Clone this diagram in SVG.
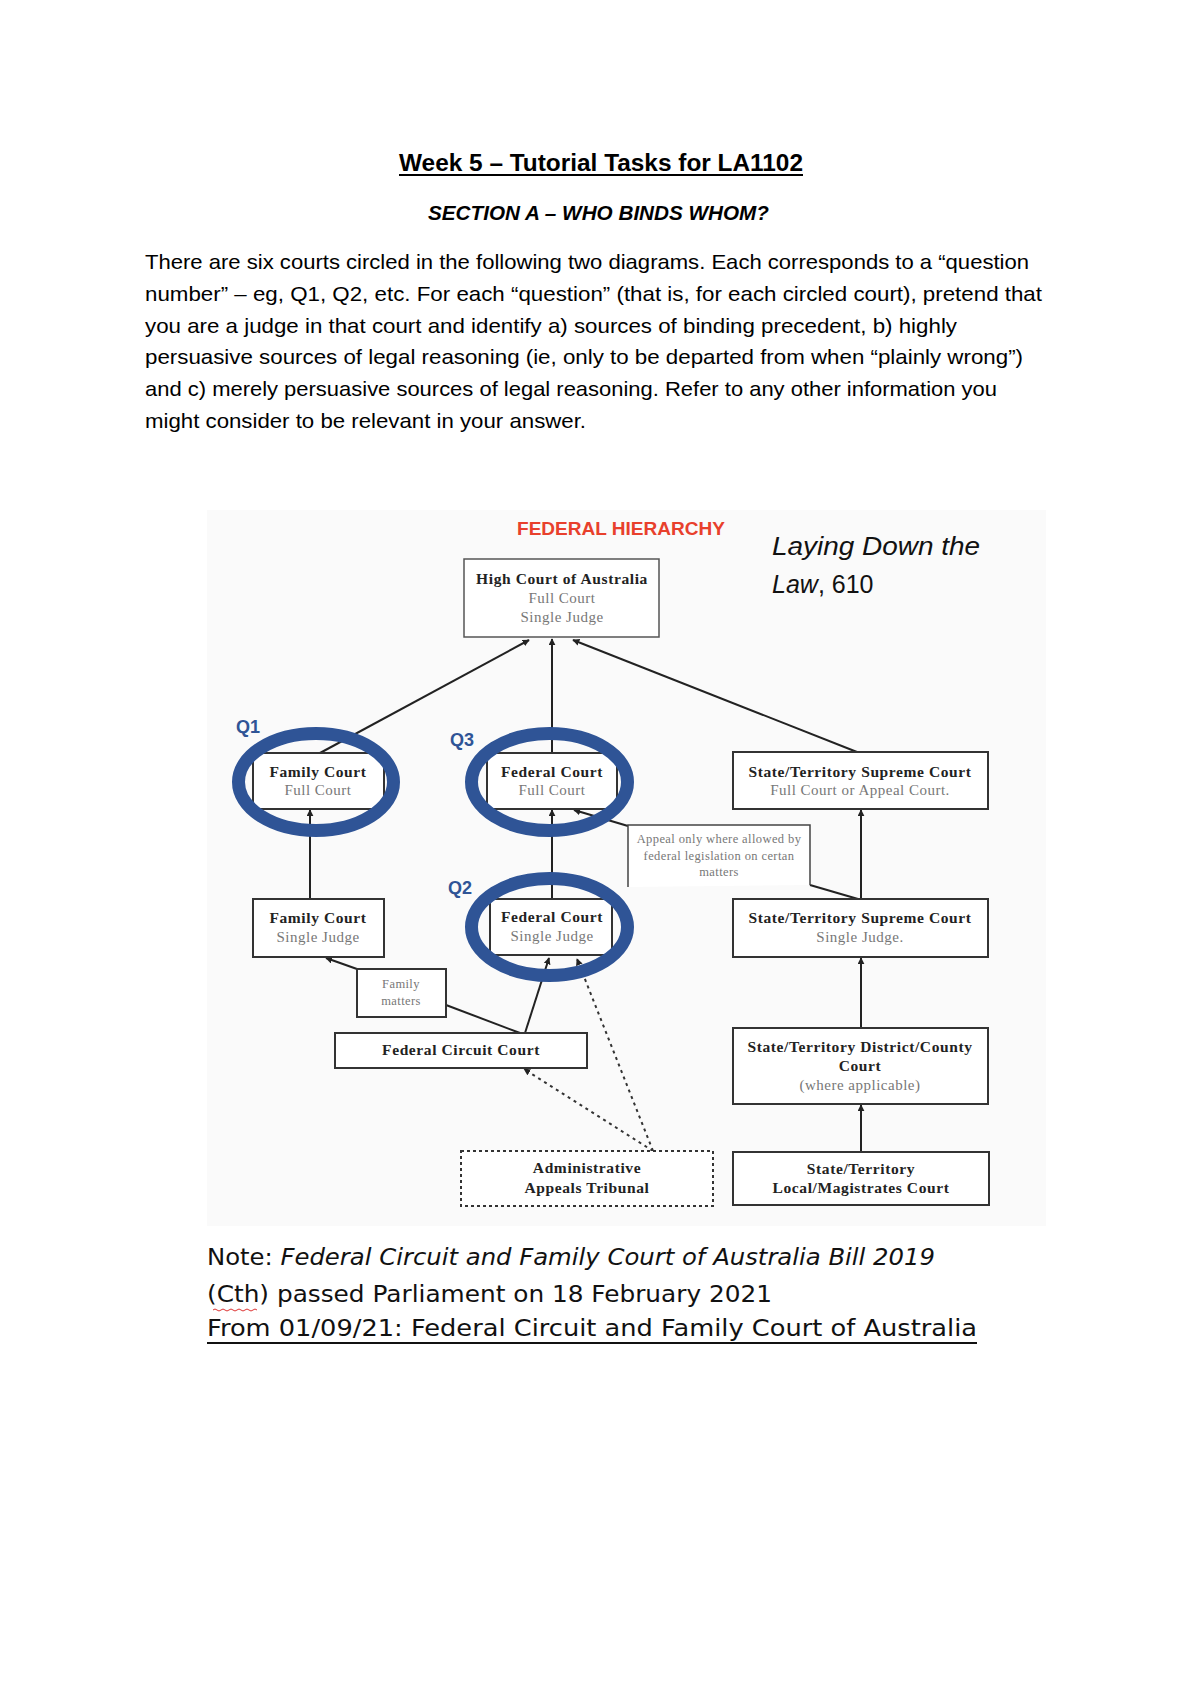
<svg xmlns="http://www.w3.org/2000/svg" width="1200" height="1698" viewBox="0 0 1200 1698">
<defs>
<marker id="ah" viewBox="0 0 10 10" refX="9" refY="5" markerWidth="7" markerHeight="7" markerUnits="userSpaceOnUse" orient="auto"><path d="M0,0 L10,5 L0,10 z" fill="#222"/></marker>
</defs>
<style>
.hdr{font-family:"Liberation Sans",Arial,sans-serif;fill:#000}
.para{font-family:"Liberation Sans",Arial,sans-serif;font-size:21px;fill:#000}
.box{fill:#fff;stroke:#333;stroke-width:2}
.bt{font-family:"Liberation Serif","Times New Roman",serif;font-size:15.5px;letter-spacing:0.6px;font-weight:bold;fill:#222;text-anchor:middle}
.st{font-family:"Liberation Serif","Times New Roman",serif;font-size:15px;letter-spacing:0.5px;fill:#777;text-anchor:middle}
.sm{font-family:"Liberation Serif","Times New Roman",serif;font-size:12.5px;letter-spacing:0.4px;fill:#777;text-anchor:middle}
.ring{fill:none;stroke:#2F5496;stroke-width:13}
.q{font-family:"Liberation Sans",Arial,sans-serif;font-size:18px;font-weight:bold;fill:#2F5496}
.ln{fill:none;stroke:#222;stroke-width:2}
.dl{fill:none;stroke:#333;stroke-width:2;stroke-dasharray:3,4}
.note{font-family:"DejaVu Sans",Verdana,sans-serif;font-size:23px;fill:#111}
</style>
<rect width="1200" height="1698" fill="#fff"/>
<!-- header -->
<g id="header">
<text class="hdr" x="399" y="171" font-size="23" font-weight="bold" textLength="404" lengthAdjust="spacingAndGlyphs">Week 5 – Tutorial Tasks for LA1102</text>
<line x1="399" y1="175" x2="803" y2="175" stroke="#000" stroke-width="2"/>
<text class="hdr" x="428" y="220" font-size="20" font-weight="bold" font-style="italic" textLength="341" lengthAdjust="spacingAndGlyphs">SECTION A – WHO BINDS WHOM?</text>
<text class="para" x="145" y="269" textLength="884" lengthAdjust="spacingAndGlyphs">There are six courts circled in the following two diagrams. Each corresponds to a “question</text>
<text class="para" x="145" y="301" textLength="897" lengthAdjust="spacingAndGlyphs">number” – eg, Q1, Q2, etc. For each “question” (that is, for each circled court), pretend that</text>
<text class="para" x="145" y="333" textLength="812" lengthAdjust="spacingAndGlyphs">you are a judge in that court and identify a) sources of binding precedent, b) highly</text>
<text class="para" x="145" y="364" textLength="878" lengthAdjust="spacingAndGlyphs">persuasive sources of legal reasoning (ie, only to be departed from when “plainly wrong”)</text>
<text class="para" x="145" y="396" textLength="852" lengthAdjust="spacingAndGlyphs">and c) merely persuasive sources of legal reasoning. Refer to any other information you</text>
<text class="para" x="145" y="428" textLength="441" lengthAdjust="spacingAndGlyphs">might consider to be relevant in your answer.</text>
</g>
<!-- diagram background -->
<rect x="207" y="510" width="839" height="716" fill="#fafafa"/>
<text x="517" y="535" font-family="Liberation Sans,Arial,sans-serif" font-size="19" font-weight="bold" fill="#E8402C" textLength="208" lengthAdjust="spacingAndGlyphs">FEDERAL HIERARCHY</text>
<text x="772" y="555" font-family="Liberation Sans,Arial,sans-serif" font-size="25" font-style="italic" fill="#111" textLength="208" lengthAdjust="spacingAndGlyphs">Laying Down the</text>
<text x="772" y="593" font-family="Liberation Sans,Arial,sans-serif" font-size="25" fill="#111"><tspan font-style="italic">Law</tspan>, 610</text>
<!-- connectors -->
<g id="connectors">
<line class="ln" x1="320" y1="753" x2="529" y2="640" marker-end="url(#ah)"/>
<line class="ln" x1="552" y1="753" x2="552" y2="639" marker-end="url(#ah)"/>
<line class="ln" x1="857" y1="752" x2="573" y2="640" marker-end="url(#ah)"/>
<line class="ln" x1="310" y1="899" x2="310" y2="810" marker-end="url(#ah)"/>
<line class="ln" x1="552" y1="899" x2="552" y2="810" marker-end="url(#ah)"/>
<line class="ln" x1="861" y1="899" x2="861" y2="810" marker-end="url(#ah)"/>
<line class="ln" x1="861" y1="1028" x2="861" y2="958" marker-end="url(#ah)"/>
<line class="ln" x1="861" y1="1152" x2="861" y2="1105" marker-end="url(#ah)"/>
<line class="ln" x1="628" y1="826" x2="574" y2="810" marker-end="url(#ah)"/>
<line class="ln" x1="810" y1="885" x2="858" y2="899"/>
<line class="ln" x1="357" y1="969" x2="326" y2="958" marker-end="url(#ah)"/>
<line class="ln" x1="446" y1="1005" x2="520" y2="1033"/>
<line class="ln" x1="525" y1="1033" x2="549" y2="958" marker-end="url(#ah)"/>
<line class="dl" x1="653" y1="1151" x2="577" y2="959" marker-end="url(#ah)"/>
<line class="dl" x1="653" y1="1151" x2="524" y2="1069" marker-end="url(#ah)"/>
</g>
<!-- nodes -->
<g id="high-court">
<rect x="464" y="559" width="195" height="78" fill="#fff" stroke="#555" stroke-width="1.5"/>
<text class="bt" x="562" y="584">High Court of Australia</text>
<text class="st" x="562" y="603">Full Court</text>
<text class="st" x="562" y="622">Single Judge</text>
</g>
<g id="family-full">
<rect class="box" x="253" y="753" width="131" height="56"/>
<text class="bt" x="318" y="777">Family Court</text>
<text class="st" x="318" y="795">Full Court</text>
</g>
<g id="federal-full">
<rect class="box" x="487" y="753" width="130" height="56"/>
<text class="bt" x="552" y="777">Federal Court</text>
<text class="st" x="552" y="795">Full Court</text>
</g>
<g id="state-full">
<rect class="box" x="733" y="752" width="255" height="57"/>
<text class="bt" x="860" y="777">State/Territory Supreme Court</text>
<text class="st" x="860" y="795">Full Court or Appeal Court.</text>
</g>
<g id="appeal-note">
<polyline points="628,887 628,825 810,825 810,885" fill="#fff" stroke="#444" stroke-width="1.5"/>
<text class="sm" x="719" y="843">Appeal only where allowed by</text>
<text class="sm" x="719" y="860">federal legislation on certan</text>
<text class="sm" x="719" y="876">matters</text>
</g>
<g id="family-single">
<rect class="box" x="253" y="899" width="131" height="58"/>
<text class="bt" x="318" y="923">Family Court</text>
<text class="st" x="318" y="942">Single Judge</text>
</g>
<g id="federal-single">
<rect class="box" x="490" y="899" width="122" height="56"/>
<text class="bt" x="552" y="922">Federal Court</text>
<text class="st" x="552" y="941">Single Judge</text>
</g>
<g id="state-single">
<rect class="box" x="733" y="899" width="255" height="58"/>
<text class="bt" x="860" y="923">State/Territory Supreme Court</text>
<text class="st" x="860" y="942">Single Judge.</text>
</g>
<g id="family-matters">
<rect class="box" x="357" y="969" width="89" height="48"/>
<text class="sm" x="401" y="988">Family</text>
<text class="sm" x="401" y="1005">matters</text>
</g>
<g id="federal-circuit">
<rect class="box" x="335" y="1033" width="252" height="35"/>
<text class="bt" x="461" y="1055">Federal Circuit Court</text>
</g>
<g id="district">
<rect class="box" x="733" y="1028" width="255" height="76"/>
<text class="bt" x="860" y="1052">State/Territory District/County</text>
<text class="bt" x="860" y="1071">Court</text>
<text class="st" x="860" y="1090">(where applicable)</text>
</g>
<g id="aat">
<rect x="461" y="1151" width="252" height="55" fill="#fff" stroke="#333" stroke-width="2" stroke-dasharray="3,3"/>
<text class="bt" x="587" y="1173" font-size="14" fill="#333">Administrative</text>
<text class="bt" x="587" y="1193" font-size="14" fill="#333">Appeals Tribunal</text>
</g>
<g id="local">
<rect class="box" x="733" y="1152" width="256" height="53"/>
<text class="bt" x="861" y="1174" font-size="14" fill="#333">State/Territory</text>
<text class="bt" x="861" y="1193" font-size="14" fill="#333">Local/Magistrates Court</text>
</g>
<!-- question rings -->
<g id="q1">
<ellipse class="ring" cx="316" cy="782" rx="77.5" ry="48.5"/>
<text class="q" x="236" y="733">Q1</text>
</g>
<g id="q3">
<ellipse class="ring" cx="549.5" cy="782" rx="78" ry="48.5"/>
<text class="q" x="450" y="746">Q3</text>
</g>
<g id="q2">
<ellipse class="ring" cx="549.5" cy="927" rx="78" ry="48.5"/>
<text class="q" x="448" y="894">Q2</text>
</g>
<!-- note -->
<g id="note">
<text class="note" x="207" y="1265" textLength="728" lengthAdjust="spacingAndGlyphs">Note: <tspan font-style="italic">Federal Circuit and Family Court of Australia Bill 2019</tspan></text>
<text class="note" x="207" y="1302" textLength="565" lengthAdjust="spacingAndGlyphs">(Cth) passed Parliament on 18 February 2021</text>
<path d="M213,1310 q2,-2 4,0 t4,0 t4,0 t4,0 t4,0 t4,0 t4,0 t4,0 t4,0 t4,0 t4,0" fill="none" stroke="#d33" stroke-width="1"/>
<text class="note" x="207" y="1336" textLength="770" lengthAdjust="spacingAndGlyphs">From 01/09/21: Federal Circuit and Family Court of Australia</text>
<line x1="207" y1="1343" x2="977" y2="1343" stroke="#111" stroke-width="2"/>
</g>
</svg>
